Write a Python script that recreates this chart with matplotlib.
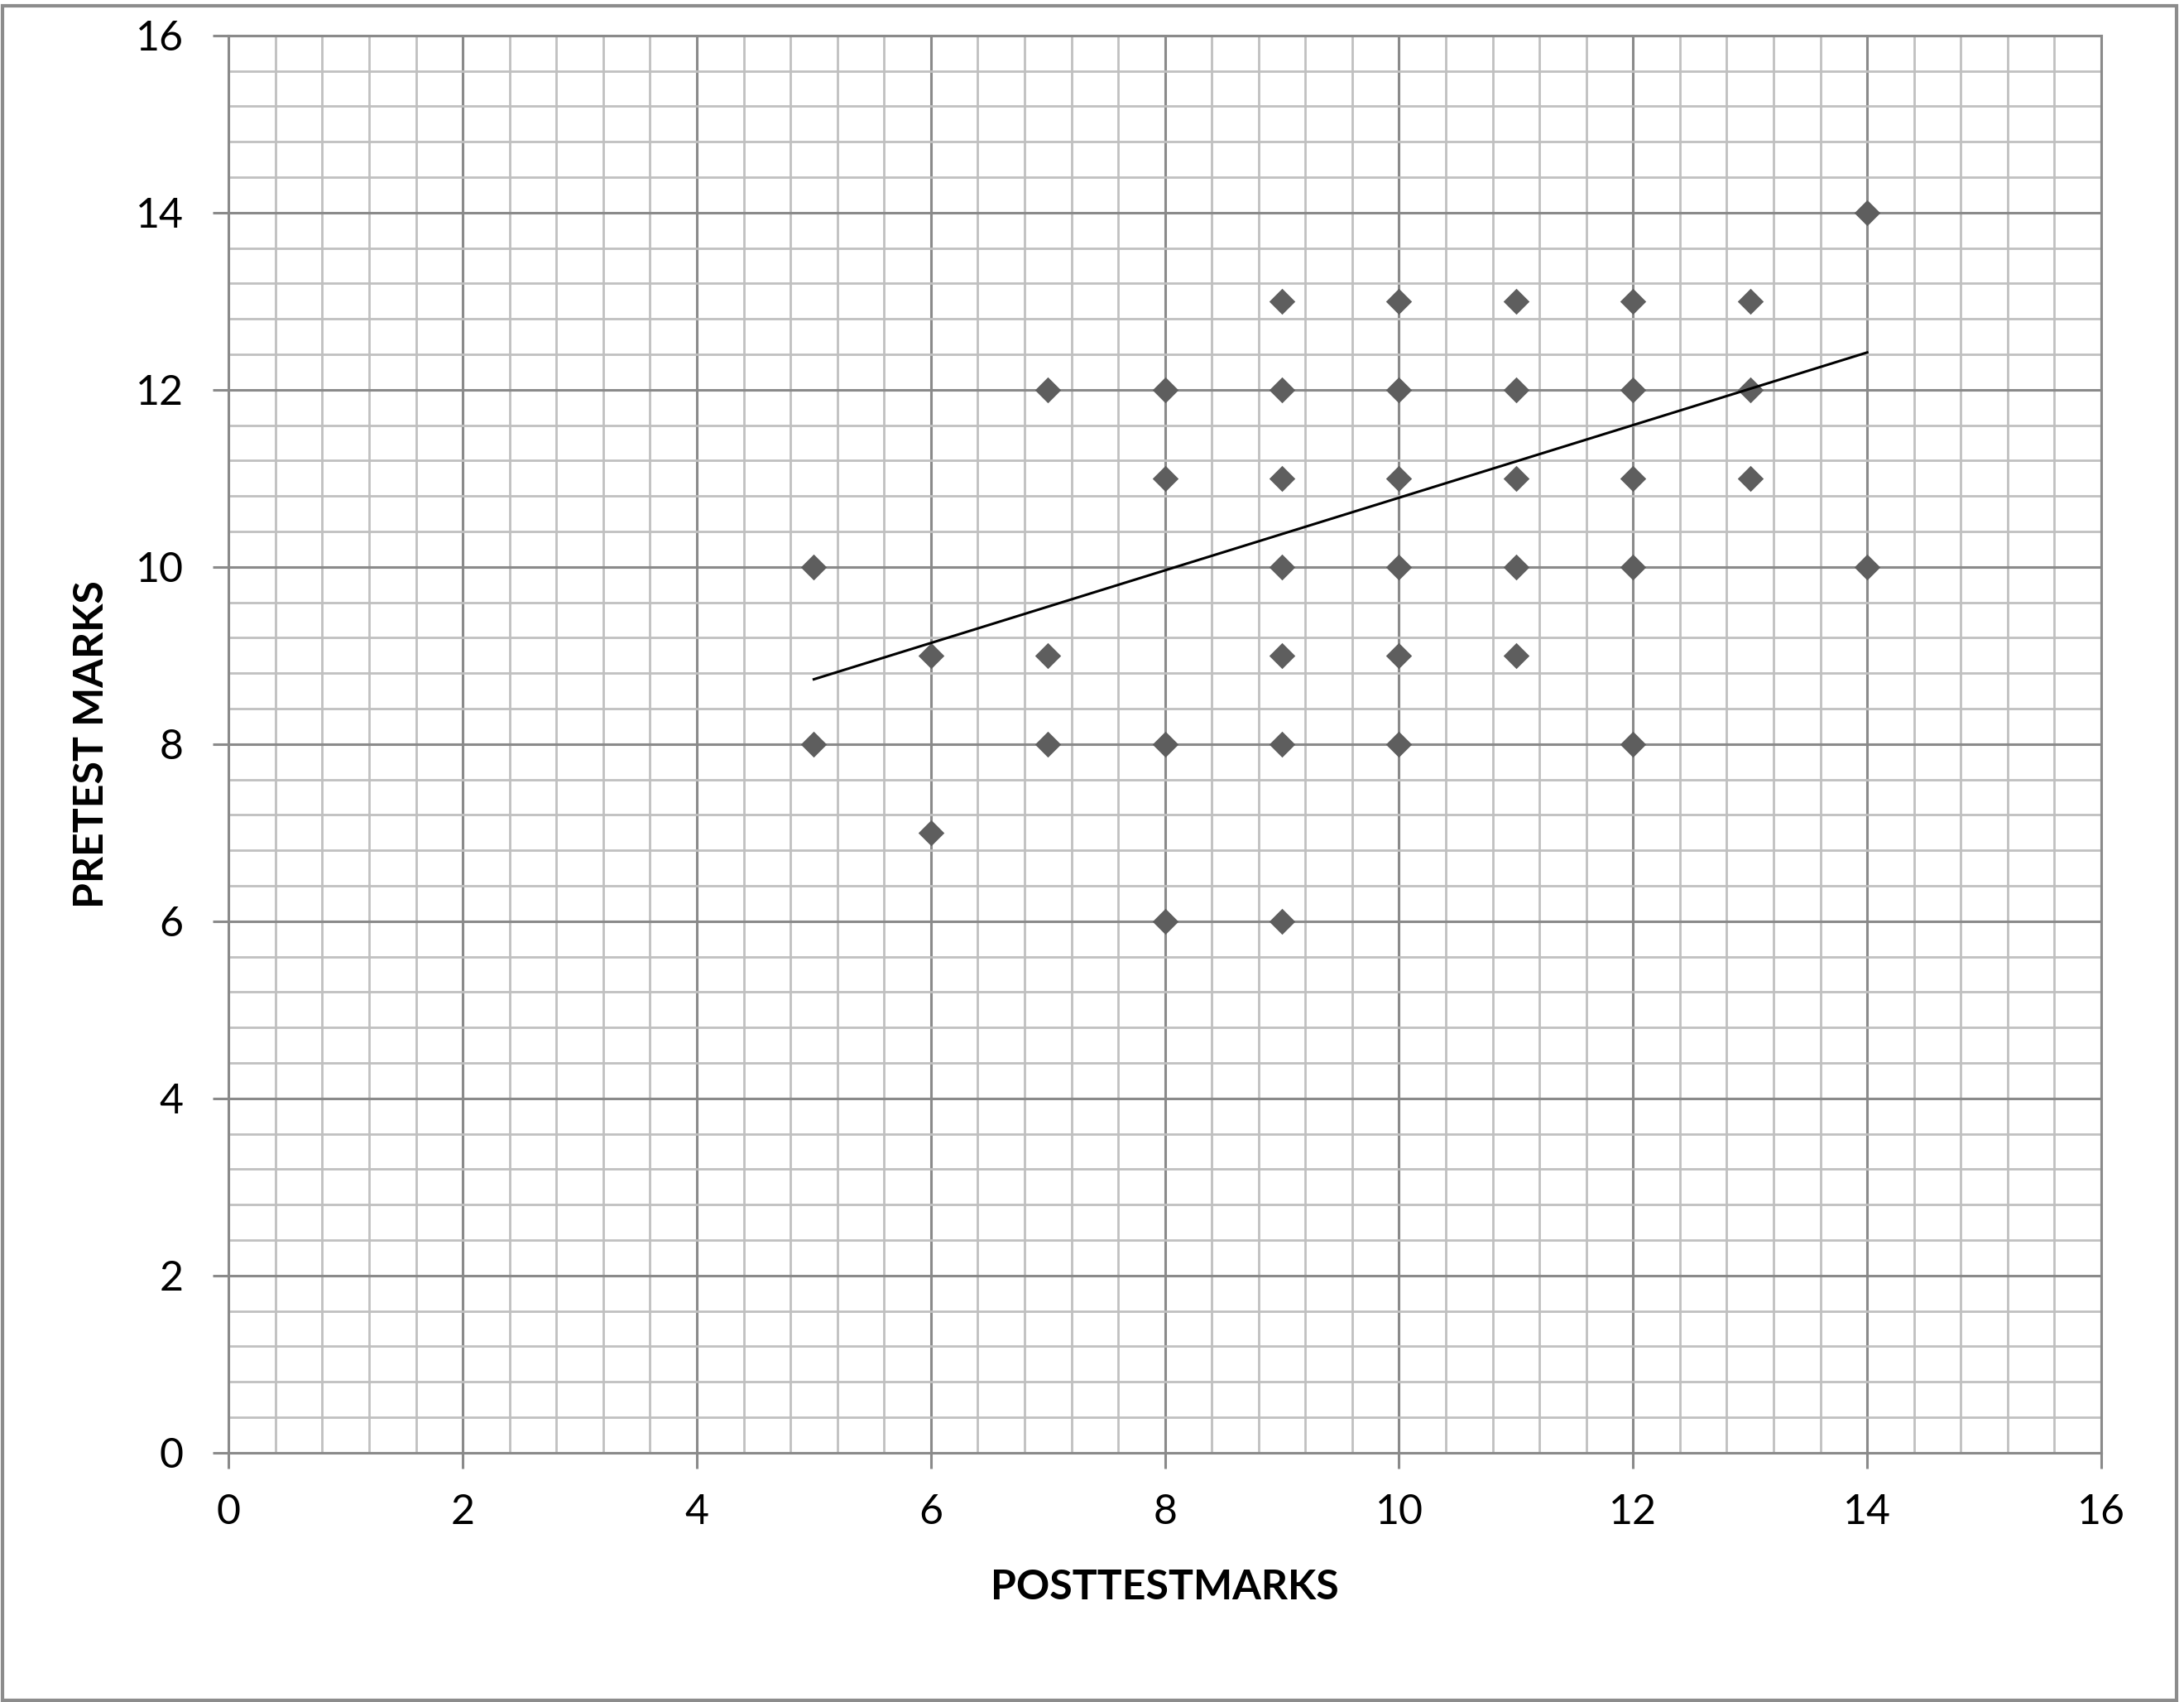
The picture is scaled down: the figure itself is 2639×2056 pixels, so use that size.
import matplotlib
matplotlib.use("Agg")
import matplotlib.pyplot as plt
from matplotlib.ticker import MultipleLocator
from matplotlib.patches import Rectangle

# ---- data ----
posttest = [5, 5, 6, 6, 7, 7, 7, 8, 8, 8, 8,
            9, 9, 9, 9, 9, 9, 9,
            10, 10, 10, 10, 10, 10,
            11, 11, 11, 11, 11,
            12, 12, 12, 12, 12,
            13, 13, 13, 14, 14]
pretest = [10, 8, 9, 7, 12, 9, 8, 12, 11, 8, 6,
           13, 12, 11, 10, 9, 8, 6,
           13, 12, 11, 10, 9, 8,
           13, 12, 11, 10, 9,
           13, 12, 11, 10, 8,
           13, 12, 11, 14, 10]
trend_x = [5, 14]
trend_y = [8.73, 12.42]
x_ticks = [0, 2, 4, 6, 8, 10, 12, 14, 16]
y_ticks = [0, 2, 4, 6, 8, 10, 12, 14, 16]

W, H = 2639, 2056
fig = plt.figure(figsize=(W / 100, H / 100), dpi=100)
plt.rcParams['font.family'] = ['Lato', 'DejaVu Sans']

left, right = 276.3 / W, 2539 / W
bottom, top = 1 - 1754.7 / H, 1 - 42.7 / H
ax = fig.add_axes([left, bottom, right - left, top - bottom])

major_c = '#8a8a8a'
minor_c = '#c0c0c0'

ax.set_xlim(0, 16)
ax.set_ylim(0, 16)
ax.set_xticks(x_ticks)
ax.set_yticks(y_ticks)
ax.xaxis.set_minor_locator(MultipleLocator(0.4))
ax.yaxis.set_minor_locator(MultipleLocator(0.4))
ax.grid(which='minor', color=minor_c, linewidth=2.0, zorder=0)
ax.grid(which='major', color=major_c, linewidth=2.2, zorder=0.5)
ax.set_axisbelow(True)

for s in ax.spines.values():
    s.set_color(major_c)
    s.set_linewidth(2.2)

ax.tick_params(which='major', direction='out', length=13.5, width=2.2, color=major_c,
               labelsize=36, labelcolor='black')
ax.tick_params(axis='y', pad=26)
ax.tick_params(axis='x', pad=22)
ax.tick_params(which='minor', length=0)

ax.scatter(posttest, pretest, marker='D', s=16 ** 2, color='#5e5e5e', linewidths=0, zorder=3)
ax.plot(trend_x, trend_y, color='black', linewidth=2.2, zorder=4)

fig.text(1407.5 / W, 1 - 1918 / H, 'POSTTESTMARKS', fontsize=36, fontweight='bold',
         ha='center', va='center')
fig.text(111 / W, 1 - 899 / H, 'PRETEST MARKS', fontsize=36, fontweight='bold',
         ha='center', va='center', rotation=90)

fig.patches.append(Rectangle((3 / W, 1 - 2054 / H), 2627 / W, 2047 / H,
                             transform=fig.transFigure, fill=False,
                             edgecolor='#8c8c8c', linewidth=3))

fig.savefig('out.png', dpi=100, facecolor='white')
